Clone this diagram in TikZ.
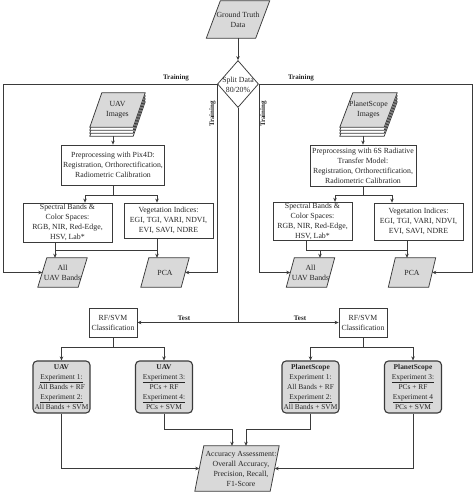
\documentclass[tikz,border=0pt]{standalone}
\usepackage{fontspec}
\setmainfont{Liberation Serif}
\usetikzlibrary{shapes.geometric,arrows.meta,backgrounds,calc}
\definecolor{ln}{HTML}{3A3A3A}
\definecolor{gfill}{HTML}{D9D9D9}
\tikzset{
 base/.style={font=\fontsize{7.8}{10}\selectfont, text=black!85},
 box/.style={base, draw=ln, line width=0.75pt, fill=white, align=center, inner sep=1pt},
 ptext/.style={base, align=center, inner sep=0pt},
 pshape/.style={draw=ln, line width=0.75pt, fill=gfill},
 sheet/.style={draw=ln, line width=0.75pt, fill=white},
 exbox/.style={base, font=\fontsize{7.4}{10}\selectfont, draw=ln, line width=1.1pt, fill=gfill, rounded corners=4pt, align=center, minimum width=57pt, minimum height=52pt, inner sep=0pt},
 line/.style={draw=ln, line width=0.75pt},
 arr/.style={line, -{Stealth[length=4pt,width=3.5pt]}},
 lab/.style={font=\fontsize{7}{8}\selectfont\bfseries, text=black!85, inner sep=0pt},
}
% #1 name, #2 x, #3 y, #4 edge width, #5 height, #6 slant, #7 text
\newcommand{\paranode}[7]{%
 \node[ptext, minimum width=#4pt, minimum height=#5pt] (#1) at (#2,#3) {#7};
 \begin{scope}[on background layer]
  \draw[pshape] ($(#1.south west)+(-#6/2,0)$) -- ($(#1.south east)+(-#6/2,0)$)
   -- ($(#1.north east)+(#6/2,0)$) -- ($(#1.north west)+(#6/2,0)$) -- cycle;
 \end{scope}}
\newcommand{\stacknode}[7]{%
 \node[ptext, minimum width=#4pt, minimum height=#5pt] (#1) at (#2,#3) {#7};
 \begin{scope}[on background layer]
  \foreach \off in {9,6,3}{
  \draw[sheet] ($(#1.south west)+(-#6/2,\off)$) -- ($(#1.south east)+(-#6/2,\off)$)
   -- ($(#1.north east)+(#6/2,\off)$) -- ($(#1.north west)+(#6/2,\off)$) -- cycle;}
  \draw[pshape] ($(#1.south west)+(-#6/2,0)$) -- ($(#1.south east)+(-#6/2,0)$)
   -- ($(#1.north east)+(#6/2,0)$) -- ($(#1.north west)+(#6/2,0)$) -- cycle;
 \end{scope}}
\begin{document}
\begin{tikzpicture}[x=1pt,y=-1pt]
\begin{scope}[on background layer]
\fill[white] (0,0) rectangle (474,492);
\end{scope}
\useasboundingbox (0,0) rectangle (474,492);

% top
\paranode{gt}{238}{19.5}{49}{37}{14}{Ground Truth\\Data}
\node[diamond, draw=ln, line width=0.75pt, fill=white, minimum width=41pt, minimum height=47pt, inner sep=0pt] (split) at (238,84) {};
\node[ptext] (splittxt) at (238,84.5) {Split Data\\80/20\%};

% UAV column
\stacknode{uavL}{117.5}{110}{43}{34}{12}{UAV\\Images}
\node[box, minimum width=103pt, minimum height=40pt] (preL) at (113,165) {Preprocessing with Pix4D:\\Registration, Orthorectification,\\Radiometric Calibration};
\node[box, minimum width=89pt, minimum height=39pt] (specL) at (67.5,222.5) {Spectral Bands \&\\Color Spaces:\\RGB, NIR, Red-Edge,\\HSV, Lab*};
\node[box, minimum width=89pt, minimum height=35pt] (vegL) at (168.5,220.5) {Vegetation Indices:\\EGI, TGI, VARI, NDVI,\\EVI, SAVI, NDRE};
\paranode{allL}{62.5}{272.5}{40}{29}{9}{All\\UAV Bands}
\paranode{pcaL}{165}{272.5}{40}{29}{8}{PCA}
\node[box, minimum width=48pt, minimum height=29pt] (rfL) at (113,322.5) {RF/SVM\\Classification};

% PlanetScope column
\stacknode{uavR}{368.5}{110}{44}{34}{13}{PlanetScope\\Images}
\node[box, minimum width=106pt, minimum height=41pt] (preR) at (363,165.5) {Preprocessing with 6S Radiative\\Transfer Model:\\Registration, Orthorectification,\\Radiometric Calibration};
\node[box, minimum width=79pt, minimum height=37pt] (specR) at (312.5,221.5) {Spectral Bands \&\\Color Spaces:\\RGB, NIR, Red-Edge,\\HSV, Lab*};
\node[box, minimum width=89pt, minimum height=37pt] (vegR) at (418.5,221.5) {Vegetation Indices:\\EGI, TGI, VARI, NDVI,\\EVI, SAVI, NDRE};
\paranode{allR}{310.5}{272.5}{40}{29}{8}{All\\UAV Bands}
\paranode{pcaR}{412}{272.5}{40}{29}{7}{PCA}
\node[box, minimum width=48pt, minimum height=29pt] (rfR) at (363,322.5) {RF/SVM\\Classification};

% experiments
\node[exbox] (ex1) at (61.5,387) {\textbf{UAV}\\\underline{Experiment 1:}\\All Bands + RF\\\underline{Experiment 2:}\\All Bands + SVM};
\node[exbox] (ex2) at (164,387) {\textbf{UAV}\\\underline{Experiment 3:}\\PCs + RF\\\underline{Experiment 4:}\\PCs + SVM};
\node[exbox] (ex3) at (310.5,387) {\textbf{PlanetScope}\\Experiment 1:\\All Bands + RF\\\underline{Experiment 2:}\\All Bands + SVM};
\node[exbox] (ex4) at (413,387) {\textbf{PlanetScope}\\\underline{Experiment 3:}\\PCs + RF\\\underline{Experiment 4}\\PCs + SVM};

% accuracy
\paranode{acc}{237}{468.5}{75}{45}{9}{}
\node[ptext] (acctxt) at (241,469) {Accuracy Assessment:\\Overall Accuracy,\\Precision, Recall,\\F1-Score};

% labels
\node[lab] (tr1) at (176,78) {Training};
\node[lab] (tr2) at (301,78) {Training};
\node[lab, rotate=90] (tr3) at (212.5,114) {Training};
\node[lab, rotate=90] (tr4) at (263.5,114) {Training};
\node[lab] (te1) at (184,318) {Test};
\node[lab] (te2) at (300,318) {Test};

% connectors
\coordinate (lc) at (3,84);
\coordinate (rc) at (472,84);
\draw[arr] (gt.south) -- (split.north);
\draw[arr] (split.west) -- (lc) |- (allL.west);
\draw[arr] (split.west) |- (pcaL.east);
\draw[arr] (split.east) -- (rc) |- (pcaR.east);
\draw[arr] (split.east) |- (allR.west);
\draw[arr] (split.south) |- (rfL.east);
\draw[arr] (split.south) |- (rfR.west);

\coordinate (uavLb) at ($(uavL.south)+(-4.5,9)$);
\coordinate (uavRb) at ($(uavR.south)+(-5.5,9)$);
\draw[arr] (uavLb) -- (uavLb |- preL.north);
\draw[arr] (uavRb) -- (uavRb |- preR.north);

\coordinate (jL) at (113,195);
\draw[line] (preL.south) -- (jL);
\draw[arr] (jL) -| ($(specL.north)+(17.5,0)$);
\draw[arr] (jL) -| ($(vegL.north)+(-11.5,0)$);
\coordinate (jR) at (363,195);
\draw[line] (preR.south) -- (jR);
\draw[arr] (jR) -| ($(specR.north)+(22.5,0)$);
\draw[arr] (jR) -| ($(vegR.north)+(-26.5,0)$);

\coordinate (mL1) at (55,250);
\coordinate (mL2) at (157,250);
\draw[line] (mL1 |- specL.south) -- (mL1) -- (mL2);
\draw[arr] (mL2 |- vegL.south) -- (mL2 |- pcaL.north);
\draw[arr] (mL1) -- (mL1 |- allL.north);
\coordinate (mR1) at (306,250);
\coordinate (mR2) at (407,250);
\coordinate (mR3) at (320,250);
\draw[line] (mR1 |- specR.south) -- (mR1) -- (mR2);
\draw[arr] (mR2 |- vegR.south) -- (mR2 |- pcaR.north);
\draw[arr] (mR3) -- (mR3 |- allR.north);

\coordinate (kL) at (113,347);
\draw[line] (rfL.south) -- (kL);
\draw[arr] (kL) -| (ex1.north);
\draw[arr] (kL) -| (ex2.north);
\coordinate (kR) at (363,347);
\draw[line] (rfR.south) -- (kR);
\draw[arr] (kR) -| (ex3.north);
\draw[arr] (kR) -| (ex4.north);

\coordinate (a2) at (232,429);
\coordinate (a3) at (246,429);
\draw[arr] (ex1.south) |- (acc.west);
\draw[arr] (ex4.south) |- (acc.east);
\draw[arr] (ex2.south) |- (a2) -- (a2 |- acc.north);
\draw[arr] (ex3.south) |- (a3) -- (a3 |- acc.north);
\end{tikzpicture}
\end{document}
